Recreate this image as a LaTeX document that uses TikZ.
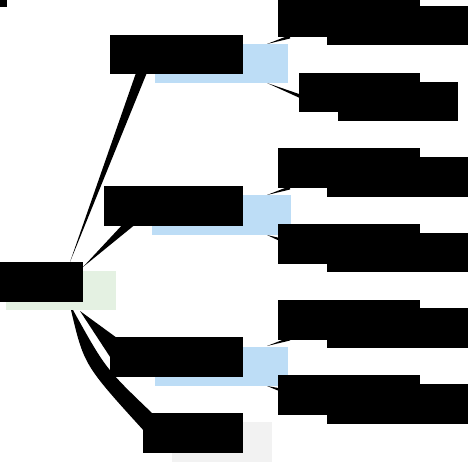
\documentclass[tikz,border=0pt]{standalone}
\definecolor{blueF}{HTML}{BDDDF6}
\definecolor{greenF}{HTML}{E4F1E2}
\definecolor{grayF}{HTML}{F2F2F2}
\tikzset{
  box/.style={draw=none, inner sep=0pt, outer sep=0pt, anchor=north west},
  redact/.style={box, fill=black},
  rootfill/.style={box, fill=greenF},
  childfill/.style={box, fill=blueF},
  otherfill/.style={box, fill=grayF},
  wedge/.style={fill=black, draw=none},
}
\newcommand\rbox[6]{\node[#1, minimum width=#4pt, minimum height=#5pt] (#6) at (#2,#3) {};}
\begin{document}
\begin{tikzpicture}[x=1pt,y=-1pt]
\useasboundingbox (0,0) rectangle (474,467);
% anchor points of connectors
\coordinate (rt1) at (70,262);
\coordinate (rt2) at (83,267);
\coordinate (rt3) at (80,311);
\coordinate (rt4) at (71,310);
% root to children wedges
\fill[wedge] (rt1) -- (137,70) -- (148,70) -- cycle;
\fill[wedge] (rt2) -- (124,223) -- (137,223) -- cycle;
\fill[wedge] (rt3) -- (117,338) -- (116,366) -- cycle;
\fill[wedge] (rt4) .. controls (84,365) .. (145,432) -- (152,413) .. controls (105.5,368.5) .. (73,310) -- cycle;
% child to leaf connectors
\coordinate (c1u) at (267,44);  \coordinate (c1d) at (267,83);
\coordinate (c2u) at (267,195); \coordinate (c2d) at (267,235);
\coordinate (c3u) at (267,346); \coordinate (c3d) at (267,386);
\fill[wedge] (c1u) -- (290,35) -- (290,38.5) -- cycle;
\fill[wedge] (c1d) -- (302,95) -- (302,99) -- cycle;
\fill[wedge] (c2u) -- (290,186) -- (290,189.5) -- cycle;
\fill[wedge] (c2d) -- (284,239) -- (284,243) -- cycle;
\fill[wedge] (c3u) -- (290,337) -- (290,340.5) -- cycle;
\fill[wedge] (c3d) -- (284,389) -- (284,393) -- cycle;
% coloured node bodies
\rbox{rootfill}{6}{271}{110}{39}{root}
\rbox{childfill}{155}{44}{133}{39}{c1}
\rbox{childfill}{152}{195}{139}{40}{c2}
\rbox{childfill}{155}{347}{133}{39}{c3}
\rbox{otherfill}{172}{422}{100}{40}{c4}
% redacted labels
\rbox{redact}{0}{0}{7}{7}{corner}
\rbox{redact}{0}{262}{83}{40}{rootlabel}
\rbox{redact}{110}{35}{133}{39}{c1label}
\rbox{redact}{104}{186}{139}{40}{c2label}
\rbox{redact}{110}{337}{133}{40}{c3label}
\rbox{redact}{143}{413}{100}{40}{c4label}
% leaves (two label lines each)
\rbox{redact}{278}{0}{142}{37}{l1a}
\rbox{redact}{327}{6}{141}{39}{l1b}
\rbox{redact}{299}{73}{121}{39}{l2a}
\rbox{redact}{338}{82}{120}{39}{l2b}
\rbox{redact}{278}{148}{142}{40}{l3a}
\rbox{redact}{327}{157}{141}{40}{l3b}
\rbox{redact}{278}{224}{142}{40}{l4a}
\rbox{redact}{327}{233}{141}{39}{l4b}
\rbox{redact}{278}{300}{142}{40}{l5a}
\rbox{redact}{327}{308}{141}{40}{l5b}
\rbox{redact}{278}{375}{142}{40}{l6a}
\rbox{redact}{327}{384}{141}{40}{l6b}
\end{tikzpicture}
\end{document}
